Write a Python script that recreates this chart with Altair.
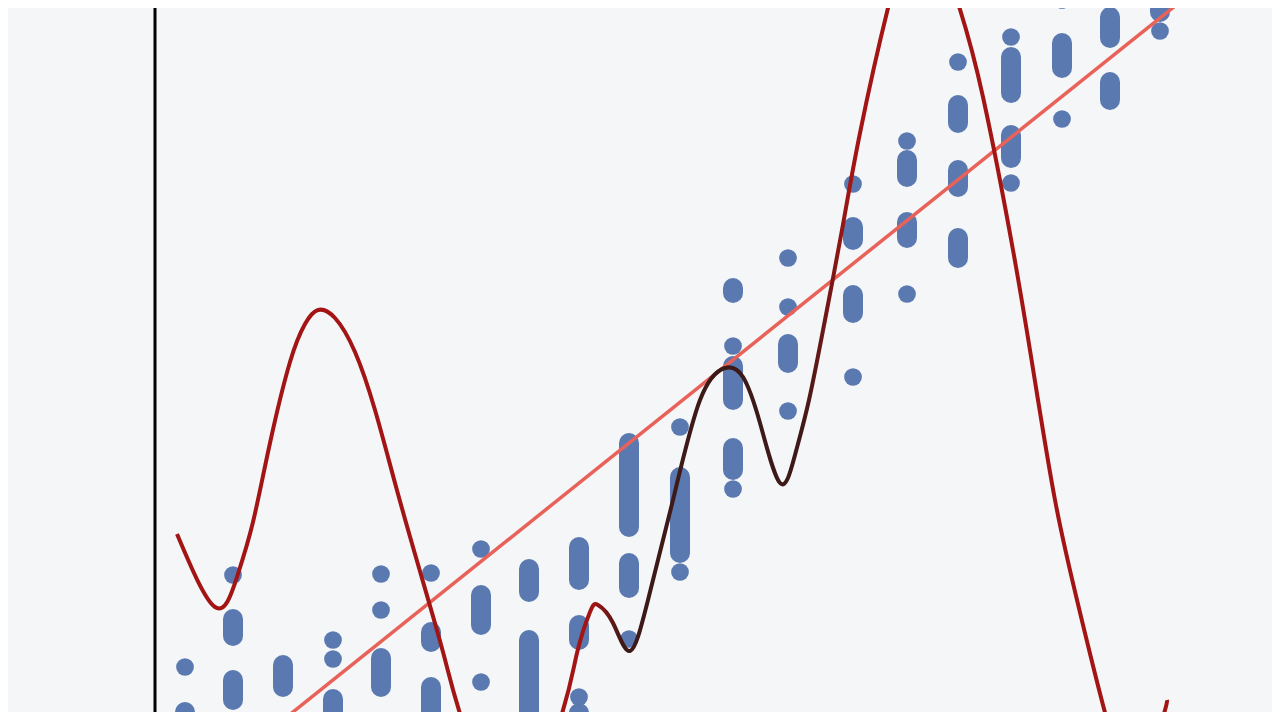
import altair as alt
import pandas as pd

# Single scatter points (x, y)
dot_x = [0.6, 1.56, 3.56, 3.56, 4.52, 4.52, 5.52, 6.52, 6.52, 8.48, 9.48,
         10.5, 10.5, 11.56, 11.56, 12.66, 12.66, 12.66, 13.96, 13.96,
         15.04, 15.04, 16.06, 17.12, 17.12, 18.14, 18.14, 20.1]
dot_y = [5.3, 14.5, 8.0, 6.1, 14.6, 11.0, 14.7, 17.1, 3.8, 2.3, 8.1,
         29.3, 14.8, 37.4, 23.1, 46.2, 41.3, 30.9, 53.6, 34.3,
         57.9, 42.6, 65.8, 68.3, 53.7, 72.0, 60.1, 68.9]

# Stacks of overlapping points in one column (x, highest y, lowest y)
stack_x = [-0.44, 0.6, 1.56, 1.56, 2.56, 3.56, 4.52, 5.52, 5.52, 6.52,
           7.48, 7.48, 8.48, 8.48, 8.48, 9.48, 9.48, 10.5, 11.56, 11.56,
           11.56, 12.66, 13.96, 13.96, 15.04, 15.04, 16.06, 16.06, 16.06,
           17.12, 17.12, 18.14, 19.1, 19.1, 20.1]
stack_top = [-0.3, 0.8, 10.1, 4.0, 5.5, 2.1, 6.2, 8.8, 3.3, 12.5,
             15.1, 8.0, 17.3, 9.5, 0.7, 27.7, 15.7, 24.3, 43.2, 35.4,
             27.2, 37.6, 49.3, 42.5, 56.0, 49.8, 61.5, 55.0, 48.2,
             66.3, 58.5, 67.7, 70.3, 63.8, 72.5]
stack_bot = [-1.0, -0.4, 8.4, 2.0, 3.3, -0.3, 3.3, 7.8, 0.5, 9.5,
             12.8, -0.4, 14.0, 8.0, -0.5, 19.3, 13.2, 16.7, 42.7, 32.0,
             25.0, 35.7, 48.0, 40.7, 54.3, 48.2, 59.7, 53.3, 46.2,
             62.7, 56.2, 65.2, 68.2, 62.0, 70.8]

# Linear fit line endpoints
fit_x = [2.4, 20.55]
fit_y = [-0.64, 72.0]

# Polynomial fit curve
poly_x = [0.44, 1.20, 1.64, 1.96, 2.30, 2.70, 3.00, 3.26, 3.60, 4.00,
          4.40, 4.80, 5.24, 5.76, 6.14, 7.10, 8.10, 8.44, 8.70, 8.86, 9.16,
          9.50, 9.86, 10.36, 10.90, 11.40, 11.76, 12.10, 12.50, 12.80, 13.08,
          13.40, 13.74, 14.10, 14.70, 15.34, 16.04, 16.56, 17.16, 17.58,
          18.00, 18.44, 19.04, 19.60, 20.14, 20.24]
poly_y = [18.6, 11.3, 14.3, 19.8, 27.7, 35.8, 39.6, 41.0, 40.2, 36.8,
          31.0, 23.7, 15.9, 6.8, 0.0, -8.6, 0.0, 6.7, 10.8, 11.5, 9.7,
          6.9, 12.0, 22.0, 32.0, 35.2, 34.3, 29.7, 23.7, 26.5, 32.0,
          40.0, 49.0, 58.7, 72.0, 79.2, 72.0, 62.3, 47.0, 34.5,
          22.0, 12.0, 0.0, -5.6, 0.0, 2.0]

dots_df = pd.DataFrame({"x": dot_x, "y": dot_y})
stacks_df = pd.DataFrame({"x": stack_x, "top": stack_top, "bot": stack_bot})
fit = pd.DataFrame({"x": fit_x, "y": fit_y})
poly = pd.DataFrame({"x": poly_x, "y": poly_y, "order": list(range(len(poly_x)))})
axis_df = pd.DataFrame({"x": [0.0]})

xs = alt.Scale(domain=[-2.94, 22.34], nice=False, zero=False)
ys = alt.Scale(domain=[0.8, 71.2], nice=False, zero=False)

BLUE = "#5a79b0"

dots = alt.Chart(dots_df).mark_circle(size=314, opacity=1, color=BLUE, clip=True).encode(
    x=alt.X("x:Q", scale=xs, axis=None),
    y=alt.Y("y:Q", scale=ys, axis=None),
)

stacks = alt.Chart(stacks_df).mark_rule(
    color=BLUE, strokeWidth=20, strokeCap="round", opacity=1, clip=True
).encode(
    x=alt.X("x:Q", scale=xs, axis=None),
    y=alt.Y("top:Q", scale=ys, axis=None),
    y2="bot:Q",
)

yaxis = alt.Chart(axis_df).mark_rule(color="#000000", strokeWidth=3).encode(
    x=alt.X("x:Q", scale=xs, axis=None),
)

lin = alt.Chart(fit).mark_line(color="#e8625a", strokeWidth=3.5, clip=True).encode(
    x=alt.X("x:Q", scale=xs, axis=None),
    y=alt.Y("y:Q", scale=ys, axis=None),
)

grad = alt.LinearGradient(
    gradient="linear",
    x1=0, x2=1, y1=0, y2=0,
    stops=[
        alt.GradientStop(offset=0, color="#a31515"),
        alt.GradientStop(offset=0.42, color="#a31515"),
        alt.GradientStop(offset=0.45, color="#3d1a18"),
        alt.GradientStop(offset=0.63, color="#3d1a18"),
        alt.GradientStop(offset=0.68, color="#a31515"),
        alt.GradientStop(offset=1, color="#a31515"),
    ],
)

curve = alt.Chart(poly).mark_line(
    color=grad, strokeWidth=4, interpolate="natural", clip=True
).encode(
    x=alt.X("x:Q", scale=xs, axis=None),
    y=alt.Y("y:Q", scale=ys, axis=None),
    order="order:Q",
)

chart = alt.layer(stacks, dots, yaxis, lin, curve).properties(
    width=1264,
    height=704,
    autosize=alt.AutoSizeParams(type="none"),
    padding=0,
    background="#f5f6f8",
).configure_view(stroke=None)

chart.save("out.html", embed_options={"renderer": "svg", "actions": False})
